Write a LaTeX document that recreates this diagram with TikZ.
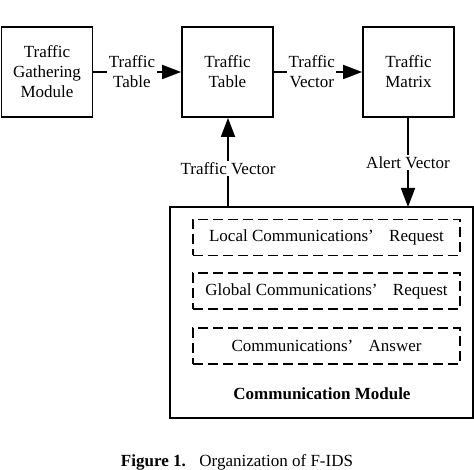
\documentclass[tikz,border=0pt]{standalone}
\usepackage{fontspec}
\setmainfont{Liberation Serif}
\usetikzlibrary{arrows.meta}
\tikzset{
  blk/.style={draw, line width=1.8pt, minimum width=91pt, minimum height=90pt, align=center, inner sep=0pt},
  dbox/.style={draw, dashed, dash pattern=on 10pt off 5pt, line width=1.8pt, minimum width=267pt, minimum height=36pt, inner sep=0pt},
  outer/.style={draw, line width=1.8pt, minimum width=303pt, minimum height=211pt, inner sep=0pt},
  conn/.style={line width=1.8pt, -{Triangle[length=19pt,width=14pt]}},
  lbl/.style={fill=white, align=center, inner sep=1.5pt},
}
\begin{document}
\begin{tikzpicture}[x=1pt,y=-1pt,font=\fontsize{17}{20}\selectfont]
\useasboundingbox (0,0) rectangle (474,470);
\node[blk] (tg) at (47,72) {Traffic\\Gathering\\Module};
\node[blk] (tt) at (227.5,72) {Traffic\\Table};
\node[blk] (tm) at (408.5,72) {Traffic\\Matrix};
\node[outer] (cm) at (321.5,312.5) {};
\node[dbox] (lr) at (326.5,237.5) {Local Communications’\hspace{0.9em}Request};
\node[dbox] (gr) at (326.5,291) {Global Communications’\hspace{0.9em}Request};
\node[dbox] (ca) at (326.5,346) {Communications’\hspace{0.9em}Answer};
\node[font=\fontsize{17}{20}\selectfont\bfseries] (cml) at (322,394) {Communication Module};
\coordinate (cmtl) at (228,207);
\coordinate (cmtr) at (408,207);
\draw[conn] (tg.east) -- node[lbl, pos=0.44] {Traffic\\Table} (tt.west);
\draw[conn] (tt.east) -- node[lbl, pos=0.43] {Traffic\\Vector} (tm.west);
\draw[conn] (cmtl) -- node[lbl, pos=0.43] {Traffic Vector} (tt.south -| cmtl);
\draw[conn] (tm.south -| cmtr) -- node[lbl, pos=0.5] {Alert Vector} (cmtr);
\node (cap) at (237,462) {\textbf{Figure 1.}\hspace{0.8em}Organization of F-IDS};
\end{tikzpicture}
\end{document}
